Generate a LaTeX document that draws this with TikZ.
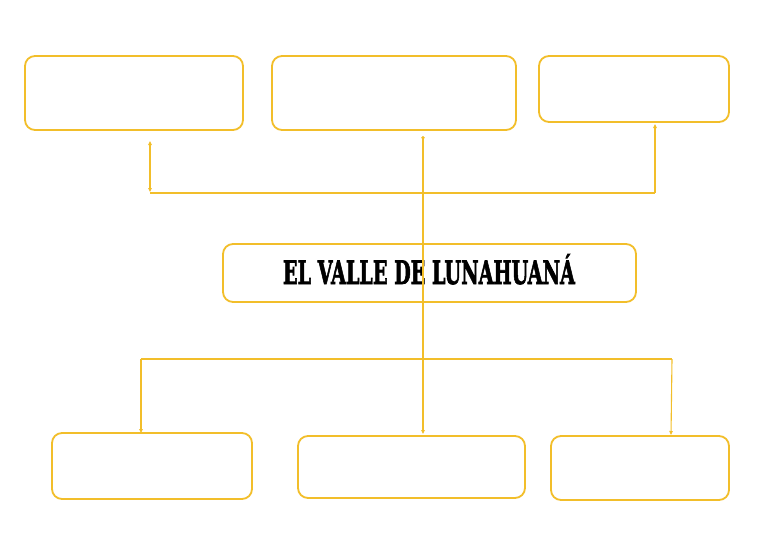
\documentclass[tikz,border=0pt]{standalone}
\usepackage{fontspec}
\setmainfont{DejaVu Serif}
\newfontfamily\titlefont[FakeBold=2.5]{DejaVu Serif Bold}
\usetikzlibrary{arrows.meta}
\definecolor{gold}{HTML}{F2BE2A}
\tikzset{
  box/.style={draw=gold, line width=1.8pt, rounded corners=10pt, fill=white, inner sep=0pt},
  conn/.style={draw=gold, line width=1.1pt},
  tip/.style={-{Triangle[length=4pt,width=3.5pt]}},
  dtip/.style={{Triangle[length=4pt,width=3.5pt]}-{Triangle[length=4pt,width=3.5pt]}}
}
\begin{document}
\begin{tikzpicture}[x=1pt,y=-1pt]
\useasboundingbox (0,0) rectangle (768,543);
% top boxes
\node[box, minimum width=218pt, minimum height=74pt] (tl) at (134,93) {};
\node[box, minimum width=244pt, minimum height=74pt] (tm) at (394,93) {};
\node[box, minimum width=190pt, minimum height=66pt] (tr) at (634,89) {};
% centre
\node[box, minimum width=413pt, minimum height=58pt] (c) at (429.5,273) {};
% bottom boxes
\node[box, minimum width=200pt, minimum height=66pt] (bl) at (152,466) {};
\node[box, minimum width=227pt, minimum height=62pt] (bm) at (411.5,467) {};
\node[box, minimum width=178pt, minimum height=64pt] (br) at (640,468) {};
% coordinates
\coordinate (tla) at (150,141);
\coordinate (tlb) at (150,192);
\coordinate (hr) at (655,193);
\coordinate (tra) at (655,124);
\coordinate (mtop) at (423,136);
\coordinate (mbot) at (423,434);
\coordinate (bh1) at (141,359);
\coordinate (bh2) at (672,359);
\coordinate (bla) at (141,433);
\coordinate (bra) at (671,435);
% title
\node[inner sep=0pt, anchor=base] (t) at (429,284) {\resizebox{292pt}{30pt}{\titlefont EL VALLE DE LUNAHUANÁ}};
% top connectors
\draw[conn, dtip] (tla) -- (tlb);
\draw[conn] (tlb |- hr) -- (hr);
\draw[conn, tip] (hr) -- (tra);
\draw[conn, {Circle[length=3.5pt]}-{Triangle[length=4pt,width=3.5pt]}] (mtop) -- (mbot);
% bottom connectors
\draw[conn] (bh1) -- (bh2);
\draw[conn, tip] (bh1) -- (bla);
\draw[conn, tip] (bh2) -- (bra);
\end{tikzpicture}
\end{document}
